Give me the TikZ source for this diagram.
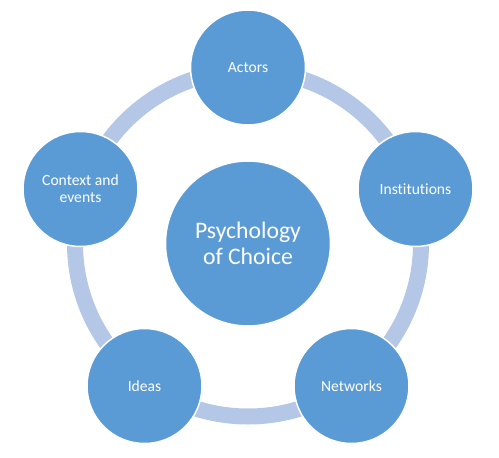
\documentclass[tikz,border=0pt]{standalone}
\usepackage{fontspec}
\setmainfont[Ligatures={NoCommon}]{Carlito}
\definecolor{nodeblue}{HTML}{5B9BD5}
\definecolor{ringblue}{HTML}{B4C7E7}
\begin{document}
\begin{tikzpicture}[x=1pt,y=-1pt,
  outer/.style={circle,fill=nodeblue,draw=white,line width=1.5pt,minimum size=115pt,inner sep=0pt,
    text=white,font=\fontsize{15.6}{16.8}\selectfont,align=center},
  inner/.style={circle,fill=nodeblue,draw=white,line width=1.5pt,minimum size=165pt,inner sep=0pt,
    text=white,font=\fontsize{23.7}{26.4}\selectfont,align=center}]
\useasboundingbox (0,0) rectangle (499,458);
\coordinate (c) at (248,243.5);
\draw[ringblue,line width=16pt] (c) circle[radius=173];
\node[inner] (psy) at (c) {Psychology\\of Choice};
\node[outer] (actors) at (248,67.5) {Actors};
\node[outer] (inst) at (415.5,189) {Institutions};
\node[outer] (net) at (351.5,386) {Networks};
\node[outer] (ideas) at (144.5,386) {Ideas};
\node[outer] (ctx) at (80.5,189) {Context and\\events};
\end{tikzpicture}
\end{document}
